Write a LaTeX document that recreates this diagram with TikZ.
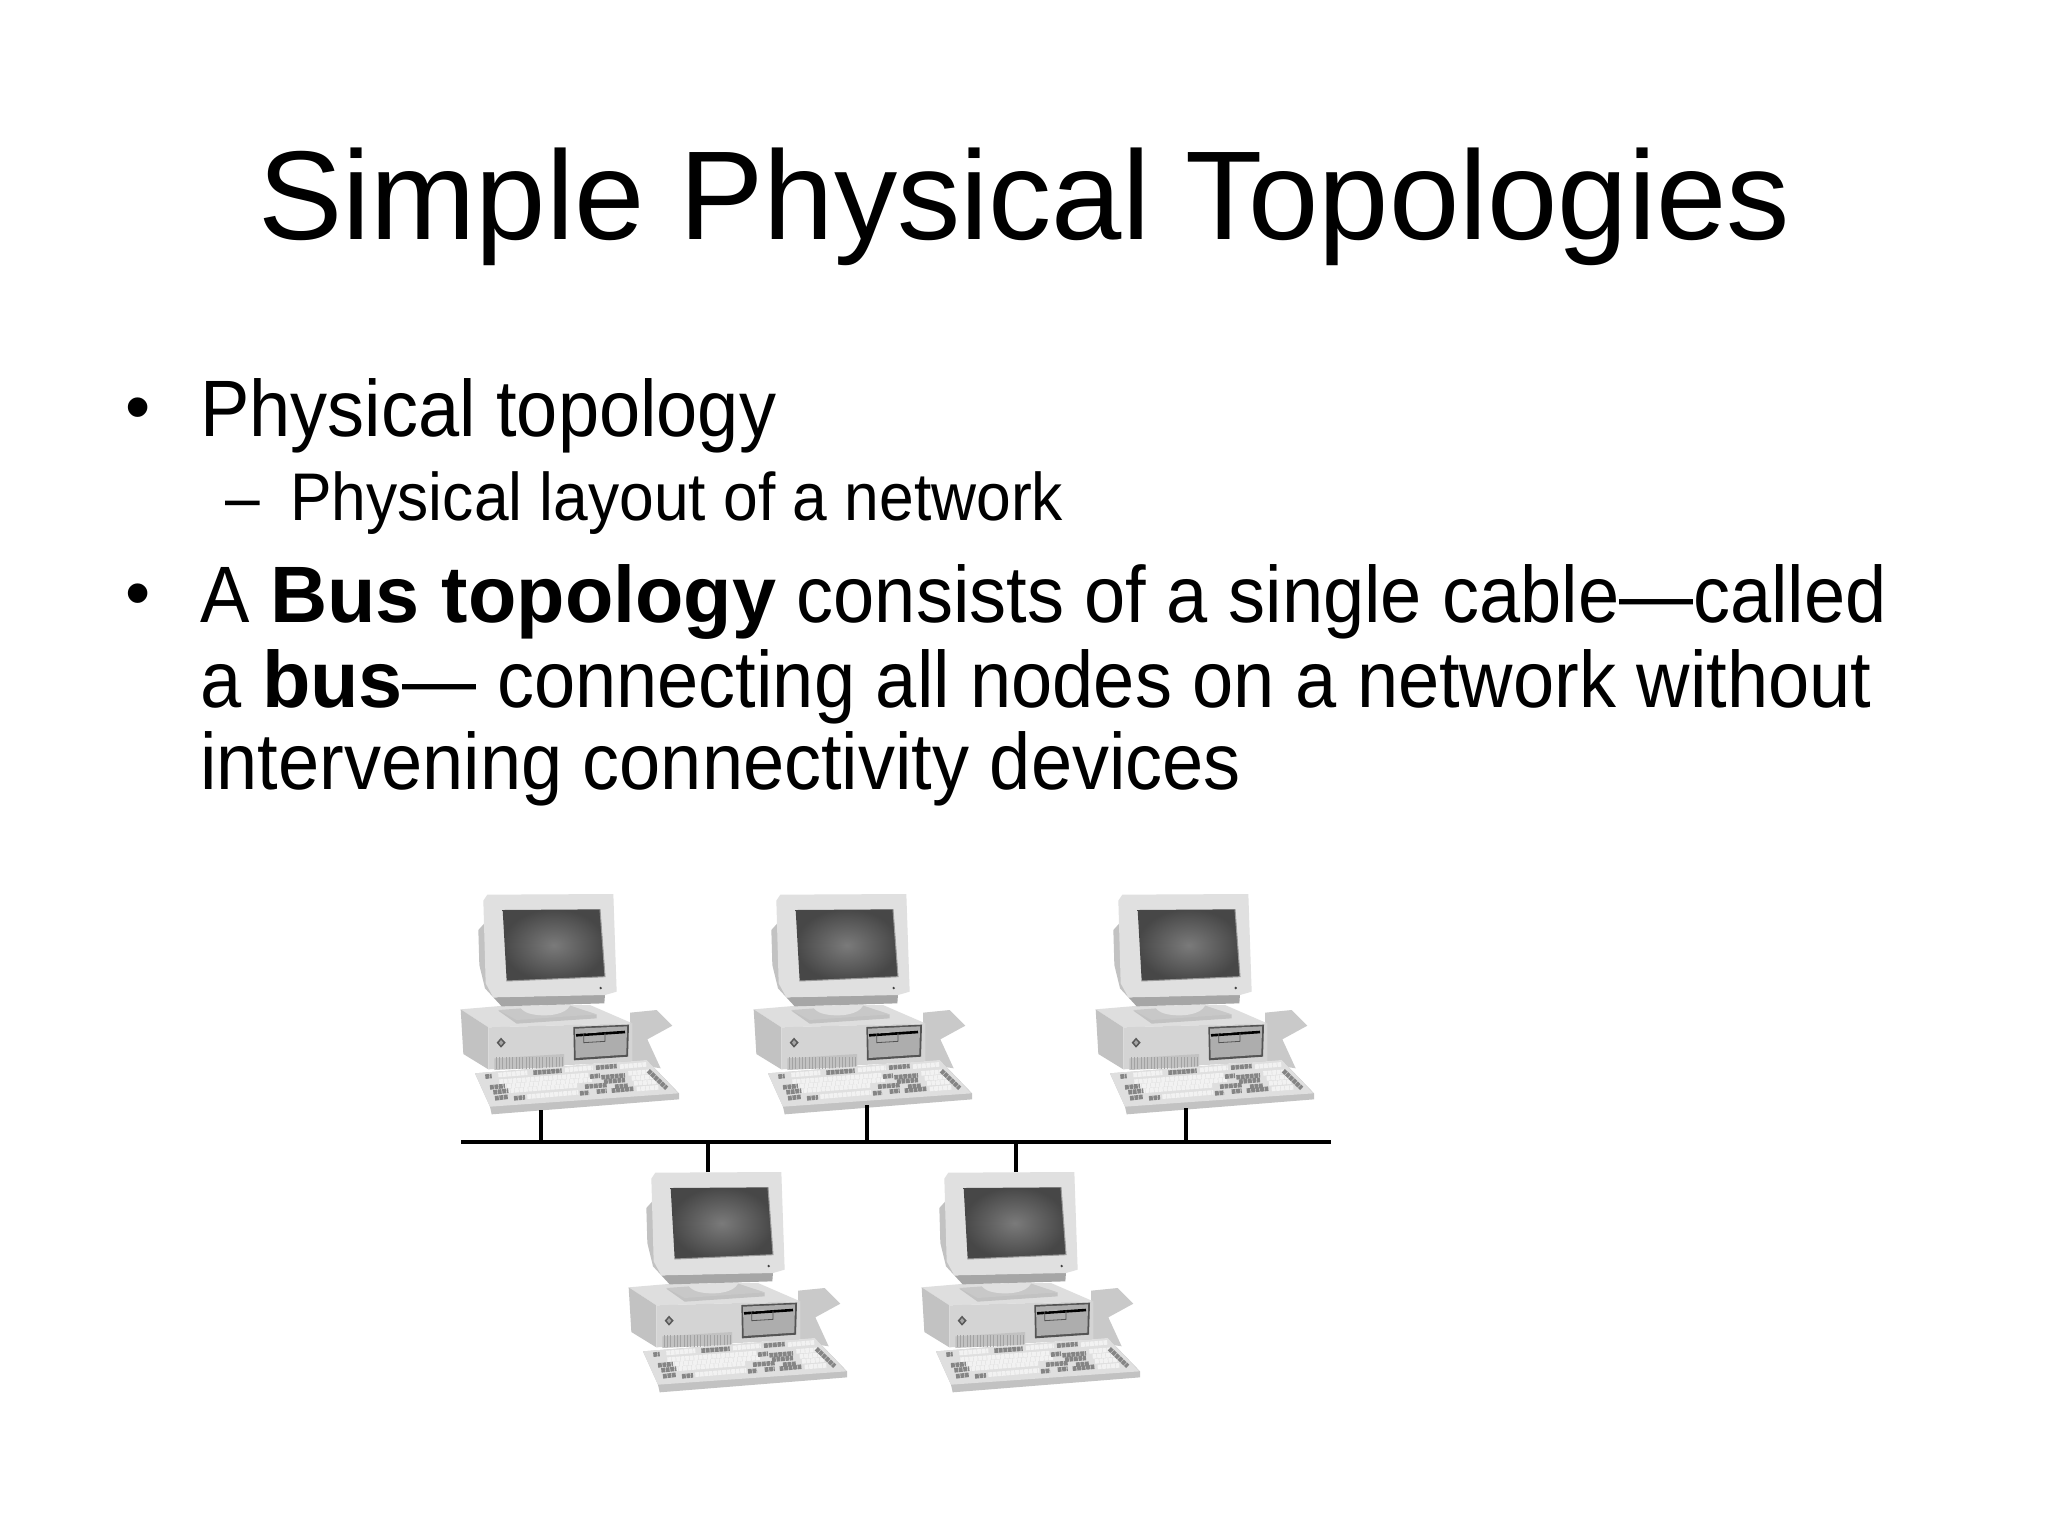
\documentclass[tikz,border=0pt]{standalone}
\usepackage{fontspec}
\setmainfont{Liberation Sans}
\newfontfamily\bodyfont[FakeStretch=0.925, BoldFeatures={FakeStretch=0.99}]{Liberation Sans}
\usetikzlibrary{positioning}

\definecolor{pcface}{gray}{0.88}
\definecolor{pcside}{gray}{0.76}
\definecolor{pcbody}{gray}{0.83}
\definecolor{pctop}{gray}{0.87}
\definecolor{pcdark}{gray}{0.33}
\definecolor{pcshadow}{gray}{0.79}

\tikzset{
	titletext/.style={inner sep=0pt, anchor=base, font=\fontsize{63.2}{70}\selectfont},
	bodytext/.style={inner sep=0pt, anchor=base west, font=\bodyfont\fontsize{40}{48}\selectfont},
	subtext/.style={inner sep=0pt, anchor=base west, font=\bodyfont\fontsize{33.7}{42}\selectfont},
	bullettext/.style={inner sep=0pt, anchor=base west, font=\fontsize{36}{42}\selectfont},
	cable/.style={draw=black, line width=1.6pt},
	buscable/.style={draw=black, line width=1.9pt},
	keyrow/.style={line width=2.3pt, dash pattern=on 1.9pt off 0.35pt},
	computer/.pic={
		\begin{scope}[scale=1/3]
			\fill[pcshadow] (570,398) -- (650,390) -- (697,437) -- (622,478) -- (662,565) -- (570,550) -- cycle;
			\fill[pctop] (62,388) -- (180,378) -- (450,375) -- (577,430) -- (145,442) -- cycle;
			\fill[pcside] (62,388) -- (145,442) -- (145,568) -- (70,522) -- cycle;
			\fill[pcbody] (145,442) -- (577,430) -- (577,545) -- (145,568) -- cycle;
			\fill[black!24] (163,535) -- (372,522) -- (372,560) -- (163,570) -- cycle;
			\foreach \vx in {168,178,...,368}
				\draw[black!36, line width=0.3pt] (\vx,532) -- (\vx,568);
			\fill[pcdark] (400,441) -- (567,434) -- (564,530) -- (402,541) -- cycle;
			\fill[black!32] (405,446) -- (561,439) -- (559,524) -- (407,534) -- cycle;
			\draw[black, line width=1.3pt] (408,466) -- (555,456);
			\draw[pcdark, line width=0.4pt] (431,462) -- (431,488) -- (495,484) -- (495,458);
			\fill[white!70!black] (438,455) -- (470,453) -- (470,458) -- (438,460) -- cycle;
			\fill[black!65] (183,473) -- (197,488) -- (183,503) -- (170,488) -- cycle;
			\fill[black!35] (183,480) -- (190,488) -- (183,496) -- (177,488) -- cycle;

			\fill[pcside] (105,580) -- (620,540) -- (717,640) -- (717,658) -- (155,703) -- (150,680) -- cycle;
			\fill[pctop!95!white] (105,580) -- (620,540) -- (715,640) -- (150,680) -- cycle;
			\foreach \xa/\ya/\xb/\yb in {175/585/262/578, 375/570/458/563, 178/605/446/585, 188/619/456/599, 198/633/412/616, 262/650/415/637, 565/580/630/575, 575/595/645/590, 582/610/650/605, 590/627/655/622, 540/560/620/553}
				\draw[keyrow, white!95!black] (\xa,\ya) -- (\xb,\yb);
			\foreach \xa/\ya/\xb/\yb in {280/578/365/572, 468/563/530/558, 136/590/155/588, 150/622/195/618, 160/637/205/632, 165/655/205/650, 222/655/255/652, 450/590/480/587, 484/592/555/586, 492/605/555/600, 435/620/500/615, 420/640/447/638, 470/635/500/632, 515/632/580/626, 525/620/565/617, 625/572/680/625}
				\draw[keyrow, black!48] (\xa,\ya) -- (\xb,\yb);

			\fill[pcside] (175,392) -- (230,431) -- (470,415) -- (470,403) -- cycle;
			\fill[pctop!90!black] (175,390) -- (385,375) -- (470,403) -- (230,420) -- cycle;
			\fill[black!12] (240,380) -- (392,372) .. controls (385,395) and (350,406) .. (315,406) .. controls (280,406) and (250,400) .. (240,380) -- cycle;
			\fill[black!35] (160,352) -- (495,343) -- (493,370) -- (185,379) -- cycle;
			\fill[pcside] (133,130) -- (115,150) -- (118,255) -- (135,325) -- (160,352) -- (170,200) -- cycle;
			\fill[pcface] (130,62) -- (142,44) -- (520,42) -- (530,335) -- (495,345) -- (160,352) -- (137,310) -- cycle;
			\shade[inner color=black!52, outer color=black!72, shading=radial] (188,90) -- (480,88) -- (495,290) -- (200,303) -- cycle;
			\draw[black!40, line width=0.5pt] (480,88) -- (495,290) -- (200,303);
			\fill[black!75] (482,324) circle (4);
		\end{scope}
	}
}

\begin{document}
\begin{tikzpicture}[x=0.5pt, y=-0.5pt]
	\fill[white] (0,0) rectangle (2048,1536);
	\useasboundingbox (0,0) rectangle (2048,1536);

	\node[titletext] (title) at (1024,239) {Simple Physical Topologies};
	\node[bullettext] (bulletA) at (125,431) {•};
	\node[bodytext] (phys) at (200,436) {Physical topology};
	\node[subtext] (dash) at (225,520) {–};
	\node[subtext] (layout) at (290,520) {Physical layout of a network};
	\node[bullettext] (bulletB) at (125,617) {•};
	\node[bodytext] (lineA) at (200,622) {A \textbf{Bus topology} consists of a single cable—called};
	\node[bodytext] (lineB) at (200,707) {a \textbf{bus}— connecting all nodes on a network without};
	\node[bodytext] (lineC) at (200,789) {intervening connectivity devices};

	\pic (pcA) at (440,880) {computer};
	\pic (pcB) at (733,880) {computer};
	\pic (pcC) at (1075,880) {computer};
	\pic (pcD) at (608,1158) {computer};
	\pic (pcE) at (901,1158) {computer};

	\coordinate (busL) at (461,1142);
	\coordinate (busR) at (1331,1142);
	\coordinate (tapA) at (541,1110);
	\coordinate (tapB) at (867,1105);
	\coordinate (tapC) at (1186,1108);
	\coordinate (tapD) at (708,1172);
	\coordinate (tapE) at (1016,1172);

	\draw[buscable] (busL) -- (busR);
	\draw[cable] (tapA) -- (tapA |- busL);
	\draw[cable] (tapB) -- (tapB |- busL);
	\draw[cable] (tapC) -- (tapC |- busL);
	\draw[cable] (tapD) -- (tapD |- busL);
	\draw[cable] (tapE) -- (tapE |- busL);
\end{tikzpicture}
\end{document}
